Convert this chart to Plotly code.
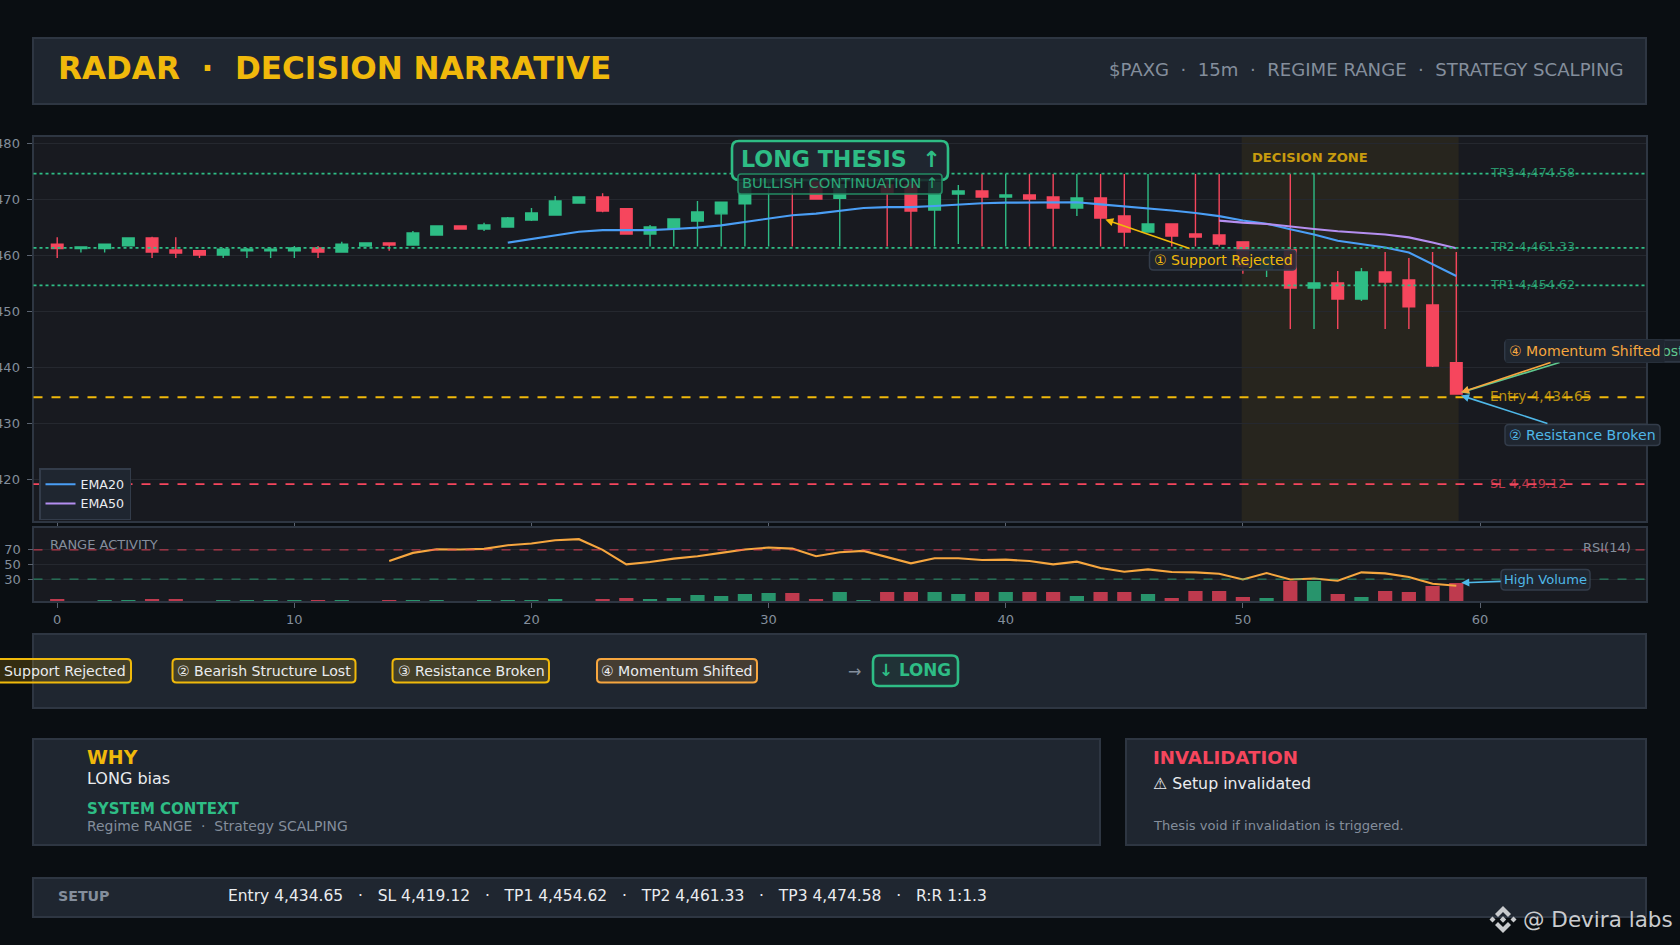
import plotly.graph_objects as go

W, H = 1680, 945
BG = "#0a0e12"
PANEL = "#1f2630"
PLOT = "#181a20"
EDGE = "#2e3642"
GRID = "#25282f"
GREEN = "#2ebd85"
RED = "#f6465d"
YELLOW = "#f0b90b"
ORANGE = "#f6a63f"
CYAN = "#4fb8e8"
GREY = "#848e9c"
WHITE = "#eaecef"
FONT = "DejaVu Sans"

opens = [4462.0, 4461.2, 4461.2, 4461.7, 4463.1, 4460.95, 4460.8, 4460.05, 4460.8, 4460.8,
         4460.8, 4461.3, 4460.6, 4461.67, 4462.2, 4461.85, 4463.63, 4465.24, 4464.7, 4465.06,
         4466.3, 4467.2, 4469.35, 4470.4, 4468.3, 4463.8, 4464.7, 4466.13, 4467.4, 4469.2,
         4473.0, 4474.0, 4473.1, 4470.2, 4472.3, 4472.55, 4472.6, 4468.1, 4470.95, 4471.5,
         4470.4, 4470.77, 4470.4, 4468.45, 4470.24, 4467.02, 4464.17, 4465.6, 4463.8, 4463.63,
         4462.4, 4457.5, 4461.0, 4454.17, 4455.06, 4452.2, 4457.02, 4455.6, 4451.13, 4440.8]
closes = [4461.2, 4461.5, 4462.0, 4463.1, 4460.6, 4460.4, 4460.05, 4461.1, 4461.1, 4461.1,
          4461.3, 4460.6, 4462.0, 4462.2, 4461.85, 4464.0, 4465.24, 4464.7, 4465.4, 4466.67,
          4467.56, 4469.7, 4470.4, 4467.9, 4463.8, 4465.06, 4466.5, 4467.74, 4469.5, 4473.0,
          4474.0, 4473.1, 4470.05, 4472.6, 4472.6, 4471.1, 4467.9, 4473.0, 4471.5, 4470.4,
          4470.77, 4470.06, 4468.45, 4470.24, 4466.67, 4464.17, 4465.6, 4463.45, 4463.27, 4462.0,
          4458.0, 4459.5, 4454.17, 4455.06, 4452.2, 4457.02, 4455.24, 4450.8, 4440.24, 4435.24]
highs = [4463.2, 4461.5, 4462.0, 4463.1, 4463.3, 4463.2, 4460.8, 4461.3, 4461.3, 4461.4,
         4461.67, 4461.67, 4462.4, 4462.2, 4462.2, 4464.35, 4465.24, 4465.24, 4465.8, 4466.85,
         4468.45, 4470.6, 4470.4, 4471.1, 4468.45, 4465.4, 4466.5, 4469.7, 4469.5, 4474.5,
         4474.5, 4474.5, 4473.1, 4474.5, 4472.9, 4474.5, 4474.5, 4474.5, 4472.56, 4474.5,
         4474.5, 4474.5, 4474.5, 4474.5, 4474.5, 4474.5, 4474.5, 4465.6, 4474.5, 4474.5,
         4462.4, 4459.9, 4474.5, 4474.5, 4457.2, 4457.74, 4460.6, 4459.5, 4460.6, 4460.6]
lows = [4459.5, 4460.5, 4460.5, 4461.7, 4459.5, 4459.5, 4459.5, 4459.5, 4459.5, 4459.5,
        4459.5, 4459.5, 4460.6, 4461.67, 4460.8, 4461.85, 4463.63, 4464.7, 4464.35, 4465.06,
        4466.13, 4467.2, 4469.35, 4467.7, 4463.8, 4461.55, 4461.55, 4461.55, 4461.55, 4461.55,
        4461.55, 4461.55, 4469.9, 4461.55, 4472.0, 4461.55, 4461.55, 4461.55, 4462.0, 4461.55,
        4461.55, 4461.55, 4461.55, 4467.02, 4461.55, 4461.55, 4464.17, 4461.55, 4461.55, 4461.55,
        4456.7, 4456.13, 4446.85, 4446.85, 4446.85, 4451.85, 4446.85, 4446.85, 4440.06, 4435.24]

ema20_x = list(range(19, 60))
ema20 = [4462.26, 4462.9, 4463.45, 4464.2, 4464.5, 4464.45, 4464.5, 4464.7, 4464.94, 4465.35,
         4465.95, 4466.6, 4467.15, 4467.45, 4467.9, 4468.45, 4468.6, 4468.6, 4468.8, 4469.1,
         4469.3, 4469.4, 4469.46, 4469.4, 4469.46, 4469.1, 4468.75, 4468.45, 4468.0, 4467.56,
         4467.0, 4466.2, 4465.65, 4464.64, 4463.7, 4462.6, 4462.0, 4461.4, 4460.5, 4458.4, 4456.3]
ema50_x = list(range(49, 60))
ema50 = [4466.2, 4465.83, 4465.6, 4465.1, 4464.7, 4464.3, 4464.05, 4463.7, 4463.2, 4462.3, 4461.25]

rsi_x = list(range(14, 60))
rsi = [54.8, 65.9, 70.9, 70.5, 71.4, 76.4, 78.7, 83.3, 84.7, 70.0,
       50.2, 53.4, 58.0, 61.3, 65.9, 70.5, 73.2, 71.8, 61.3, 66.8,
       68.6, 60.3, 51.6, 58.5, 58.5, 56.2, 56.7, 54.8, 50.2, 53.9,
       45.2, 40.1, 43.3, 39.7, 39.2, 37.4, 29.5, 38.3, 29.5, 30.9,
       27.7, 39.2, 37.8, 32.8, 23.6, 20.8]
volume = [6, 0, 3, 3, 6, 6, 0, 3, 3, 3, 3, 3, 3, 0, 3, 3, 3, 0, 3, 3,
          3, 6, 0, 6, 9, 6, 9, 18, 15, 21, 24, 24, 6, 27, 3, 27, 27, 27, 21, 27,
          27, 27, 27, 15, 27, 27, 21, 9, 30, 30, 12, 9, 60, 60, 21, 12, 30, 27, 45, 54]

levels = [("TP3 4,474.58", 4474.58, GREEN, "dot", 1.6, 12.7),
          ("TP2 4,461.33", 4461.33, GREEN, "dot", 1.6, 12.7),
          ("TP1 4,454.62", 4454.62, GREEN, "dot", 1.6, 12.7),
          ("Entry 4,434.65", 4434.65, YELLOW, "dash", 2.1, 13.65),
          ("SL 4,419.12", 4419.12, RED, "dash", 1.7, 12.8)]


def fx(p):
    return p / W


def fy(p):
    return 1 - p / H


def round_box(x0, y0, x1, y1, fill, line, width=1.5, r=4, layer="above"):
    """Rounded rectangle in page pixels, drawn as a paper path"""
    pts = [("M", x0 + r, y0), ("L", x1 - r, y0), ("Q", x1, y0, x1, y0 + r), ("L", x1, y1 - r),
           ("Q", x1, y1, x1 - r, y1), ("L", x0 + r, y1), ("Q", x0, y1, x0, y1 - r),
           ("L", x0, y0 + r), ("Q", x0, y0, x0 + r, y0)]
    d = ""
    for p in pts:
        d += p[0]
        for i, v in enumerate(p[1:]):
            d += f" {fx(v) if i % 2 == 0 else fy(v):.6f}"
        d += " "
    return dict(type="path", xref="paper", yref="paper", path=d + "Z", fillcolor=fill,
                line=dict(color=line, width=width), layer=layer)


def diamond(pts):
    d = "M " + " L ".join(f"{fx(x):.6f} {fy(y):.6f}" for x, y in pts) + " Z"
    return dict(type="path", xref="paper", yref="paper", path=d, fillcolor="#c9cbce",
                line=dict(width=0), layer="above")


def text(s, x, y, size, color, anchor="left", opacity=1):
    return dict(text=s, xref="paper", yref="paper", x=fx(x), y=fy(y), xanchor=anchor, yanchor="middle",
                showarrow=False, font=dict(family=FONT, size=size, color=color), opacity=opacity)


def callout(s, x, y, ax, ay, color, xref="x", yref="y", bg="rgba(0,0,0,0)", size=14.1):
    return dict(text=s, xref=xref, yref=yref, x=x, y=y, ax=ax, ay=ay, showarrow=True, arrowhead=2,
                arrowsize=1, arrowwidth=1.6, arrowcolor=color, standoff=5, bgcolor=bg, borderpad=3,
                font=dict(family=FONT, size=size, color=color))


fig = go.Figure()
fig.add_trace(go.Candlestick(x=list(range(60)), open=opens, high=highs, low=lows, close=closes,
                             increasing=dict(line=dict(color=GREEN, width=1.4), fillcolor=GREEN),
                             decreasing=dict(line=dict(color=RED, width=1.4), fillcolor=RED),
                             whiskerwidth=0, showlegend=False))
fig.add_trace(go.Scatter(x=ema20_x, y=ema20, mode="lines", name="EMA20", line=dict(color="#4a9ef5", width=2.1)))
fig.add_trace(go.Scatter(x=ema50_x, y=ema50, mode="lines", name="EMA50", line=dict(color="#b48ef0", width=2.1)))

bar_colors = [RED if c < o else GREEN for o, c in zip(opens, closes)]
fig.add_trace(go.Bar(x=list(range(60)), y=volume, width=0.6, marker=dict(color=bar_colors, opacity=0.75, line=dict(width=0)),
                     xaxis="x2", yaxis="y2", showlegend=False))
fig.add_trace(go.Scatter(x=rsi_x, y=rsi, mode="lines", line=dict(color=ORANGE, width=2.1),
                         xaxis="x2", yaxis="y3", showlegend=False))

shapes = [
    # page panels
    dict(type="rect", xref="paper", yref="paper", x0=fx(33), x1=fx(1646), y0=fy(38), y1=fy(104),
         fillcolor=PANEL, line=dict(color=EDGE, width=2), layer="below"),
    dict(type="rect", xref="paper", yref="paper", x0=fx(33), x1=fx(1646), y0=fy(634), y1=fy(708),
         fillcolor=PANEL, line=dict(color=EDGE, width=2), layer="below"),
    dict(type="rect", xref="paper", yref="paper", x0=fx(33), x1=fx(1100), y0=fy(739), y1=fy(845),
         fillcolor=PANEL, line=dict(color=EDGE, width=2), layer="below"),
    dict(type="rect", xref="paper", yref="paper", x0=fx(1126), x1=fx(1646), y0=fy(739), y1=fy(845),
         fillcolor=PANEL, line=dict(color=EDGE, width=2), layer="below"),
    dict(type="rect", xref="paper", yref="paper", x0=fx(33), x1=fx(1646), y0=fy(878), y1=fy(917),
         fillcolor=PANEL, line=dict(color=EDGE, width=2), layer="below"),
    # decision zone
    dict(type="rect", xref="x", yref="y domain", x0=49.95, x1=59.1, y0=0, y1=1,
         fillcolor="rgba(240,185,11,0.07)", line=dict(width=0), layer="below"),
    # rsi guides
    dict(type="line", xref="x2 domain", yref="y3", x0=0, x1=1, y0=70, y1=70,
         line=dict(color="rgba(246,70,93,0.7)", width=1.1, dash="dash")),
    dict(type="line", xref="x2 domain", yref="y3", x0=0, x1=1, y0=30, y1=30,
         line=dict(color="rgba(46,189,133,0.6)", width=1.1, dash="dash")),
]
for _, price, color, dash, width, _ in levels:
    shapes.append(dict(type="line", xref="x domain", yref="y", x0=0, x1=1, y0=price, y1=price,
                       line=dict(color=color, width=width, dash=dash), layer="above"))

# thesis badge
shapes.append(round_box(732, 141, 948, 180, PANEL, GREEN, width=2.6, r=7))
shapes.append(round_box(738, 174, 942, 194, "rgba(24,30,36,0.85)", "#238a63", width=1.6, r=3))
# callout boxes
label_fill = "rgba(31,38,48,0.88)"
shapes.append(round_box(1149.5, 250, 1296, 270, label_fill, "#333c4a"))
shapes.append(round_box(1505, 340, 1688, 362, PANEL, "#333c4a"))
shapes.append(round_box(1505, 340, 1664, 362, PANEL, "#333c4a"))
shapes.append(round_box(1505, 424.5, 1660, 445.5, PANEL, "#333c4a"))
shapes.append(round_box(1501, 569.5, 1590, 590, PANEL, "#333c4a"))
# chips
chip_fill = "rgba(240,185,11,0.18)"
shapes.append(round_box(-15, 659, 131, 682.5, chip_fill, YELLOW, width=2))
shapes.append(round_box(172.5, 659, 355.5, 682.5, chip_fill, YELLOW, width=2))
shapes.append(round_box(392.5, 659, 549, 682.5, chip_fill, YELLOW, width=2))
shapes.append(round_box(597, 659, 757, 682.5, "rgba(246,166,63,0.18)", ORANGE, width=2))
shapes.append(round_box(873, 655.5, 958, 686, "rgba(46,189,133,0.08)", GREEN, width=2.6, r=6))
# watermark logo
cx, cy = 1503, 919.5
shapes.append(diamond([(cx, cy - 13.5), (cx + 8, cy - 5.5), (cx + 5, cy - 2.5), (cx, cy - 7.5), (cx - 5, cy - 2.5), (cx - 8, cy - 5.5)]))
shapes.append(diamond([(cx, cy + 13.5), (cx + 8, cy + 5.5), (cx + 5, cy + 2.5), (cx, cy + 7.5), (cx - 5, cy + 2.5), (cx - 8, cy + 5.5)]))
shapes.append(diamond([(cx, cy - 3.2), (cx + 3.2, cy), (cx, cy + 3.2), (cx - 3.2, cy)]))
shapes.append(diamond([(cx - 10.5, cy - 3), (cx - 7.5, cy), (cx - 10.5, cy + 3), (cx - 13.5, cy)]))
shapes.append(diamond([(cx + 10.5, cy - 3), (cx + 13.5, cy), (cx + 10.5, cy + 3), (cx + 7.5, cy)]))

notes = [
    text("<b>RADAR  ·  DECISION NARRATIVE</b>", 56, 68, 31.1, YELLOW),
    text("$PAXG  ·  15m  ·  REGIME RANGE  ·  STRATEGY SCALPING", 1624.5, 69.5, 18.1, GREY, anchor="right"),
    text("<b>LONG THESIS  ↑</b>", 840.5, 159, 22.2, GREEN, anchor="center"),
    text("BULLISH CONTINUATION ↑", 840, 182.5, 14.7, GREEN, anchor="center", opacity=0.85),
    text("<b>DECISION ZONE</b>", 1250, 157.5, 13.1, YELLOW, opacity=0.8),
    text("RANGE ACTIVITY", 48, 544, 13, GREY),
    text("RSI(14)", 1633, 547.5, 13, GREY, anchor="right"),
    text("① Support Rejected", 57, 670.5, 14.1, WHITE, anchor="center"),
    text("② Bearish Structure Lost", 264, 670.5, 14.1, WHITE, anchor="center"),
    text("③ Resistance Broken", 471, 670.5, 14.1, WHITE, anchor="center"),
    text("④ Momentum Shifted", 677, 670.5, 14.1, WHITE, anchor="center"),
    text("→", 854.5, 671, 16, GREY, anchor="center"),
    text("<b>↓ LONG</b>", 915.5, 670, 16.8, GREEN, anchor="center"),
    text("<b>WHY</b>", 85, 757, 18.9, YELLOW),
    text("LONG bias", 85, 778.5, 16, WHITE),
    text("<b>SYSTEM CONTEXT</b>", 85, 809, 15, GREEN),
    text("Regime RANGE  ·  Strategy SCALPING", 85, 826, 13.9, GREY),
    text("<b>INVALIDATION</b>", 1151, 757, 18.2, RED),
    text("⚠ Setup invalidated", 1151, 783.5, 15.8, WHITE),
    text("Thesis void if invalidation is triggered.", 1151, 825, 13.1, GREY),
    text("<b>SETUP</b>", 56, 896, 14.2, GREY),
    text("Entry 4,434.65\u00a0\u00a0\u00a0·\u00a0\u00a0\u00a0SL 4,419.12\u00a0\u00a0\u00a0·\u00a0\u00a0\u00a0TP1 4,454.62\u00a0\u00a0\u00a0·\u00a0\u00a0\u00a0TP2 4,461.33\u00a0\u00a0\u00a0·\u00a0\u00a0\u00a0TP3 4,474.58\u00a0\u00a0\u00a0·\u00a0\u00a0\u00a0R:R 1:1.3",
         225.5, 896, 15.5, WHITE),
    text("@ Devira labs", 1520.5, 919, 21.5, "#c9cbce"),
]
for name, price, color, _, _, size in levels:
    notes.append(dict(text=name, xref="x", yref="y", x=60.32, y=price, xanchor="left", yanchor="middle", yshift=1,
                      showarrow=False, opacity=0.75, font=dict(family=FONT, size=size, color=color)))

notes.append(callout("① Support Rejected", 44, 4466.67, 122.6, 42, YELLOW))
notes.append(callout("② Bearish Structure Lost", 59, 4435.24, 141, -43, "#5fc98f"))
notes.append(callout("④ Momentum Shifted", 59, 4435.24, 128.7, -43, ORANGE, bg=PANEL))
notes.append(callout("② Resistance Broken", 59, 4435.24, 126.7, 41, CYAN))
notes.append(callout("High Volume", 59, 54, 89.5, -3.3, CYAN, xref="x2", yref="y2", size=13.1))

axis_common = dict(showline=True, linecolor=EDGE, linewidth=2, mirror=True, ticks="outside", ticklen=5,
                   tickcolor="#5b6370", tickfont=dict(family=FONT, size=13, color=GREY), zeroline=False)

fig.update_layout(
    width=W, height=H, margin=dict(l=0, r=0, t=0, b=0, autoexpand=False),
    paper_bgcolor=BG, plot_bgcolor=PLOT, font=dict(family=FONT, color=WHITE),
    barmode="overlay", hovermode=False, shapes=shapes, annotations=notes,
    xaxis=dict(domain=[fx(33.5), fx(1646)], range=[-1, 67], dtick=10, showticklabels=False, showgrid=False,
               rangeslider=dict(visible=False), anchor="y", **axis_common),
    yaxis=dict(domain=[fy(521), fy(137)], range=[4412.55, 4481.125], dtick=10, gridcolor=GRID, anchor="x",
               ticklabelstandoff=4, **axis_common),
    xaxis2=dict(domain=[fx(33.5), fx(1646)], range=[-1, 67], dtick=10, showgrid=False, anchor="y2", **axis_common),
    yaxis2=dict(domain=[fy(601), fy(528)], range=[0, 219], showticklabels=False, ticks="", showgrid=False,
                showline=True, linecolor=EDGE, linewidth=2, mirror=True, zeroline=False, anchor="x2"),
    yaxis3=dict(overlaying="y2", range=[0, 100], tickvals=[30, 50, 70], gridcolor=GRID, ticks="outside", ticklen=5,
                ticklabelstandoff=4, tickcolor="#5b6370", tickfont=dict(family=FONT, size=13, color=GREY),
                zeroline=False, anchor="x2"),
    legend=dict(x=fx(39), y=fy(468), xanchor="left", yanchor="top", bgcolor=PANEL, bordercolor="#333c4a",
                borderwidth=1.5, font=dict(family=FONT, size=12.6, color=WHITE), tracegroupgap=0),
)

# the page has to start at the corner, without the browser's default body margin
fig.write_html("out.html", config={"displayModeBar": False},
               post_script="document.body.style.margin='0';document.body.style.background='#0a0e12';")
